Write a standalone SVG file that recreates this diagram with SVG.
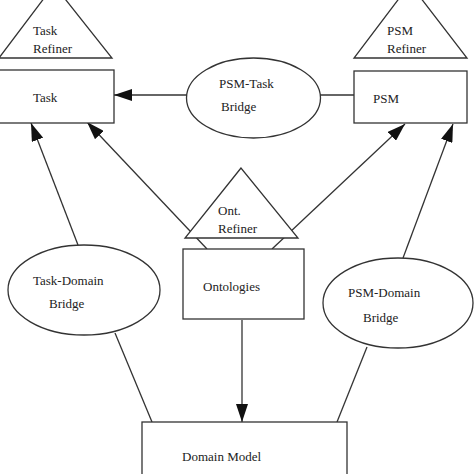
<svg xmlns="http://www.w3.org/2000/svg" width="474" height="474" viewBox="0 0 474 474">
<defs>
<marker id="ah" markerWidth="18" markerHeight="12" refX="18" refY="6" orient="auto" markerUnits="userSpaceOnUse">
<path d="M0,0 L18,6 L0,12 Z" fill="#111"/>
</marker>
<style>
.s{fill:#fff;stroke:#333;stroke-width:1.3}
.c{fill:none;stroke:#333;stroke-width:1.3}
text{font-family:"Liberation Serif","Times New Roman",serif;font-size:13px;fill:#222}
</style>
</defs>
<rect width="474" height="474" fill="#fff"/>
<g id="connectors">
<line class="c" x1="187" y1="95" x2="114" y2="95" marker-end="url(#ah)"/>
<line class="c" x1="320" y1="95" x2="354" y2="95"/>
<line class="c" x1="78" y1="245" x2="31" y2="123" marker-end="url(#ah)"/>
<line class="c" x1="207" y1="249" x2="87" y2="122" marker-end="url(#ah)"/>
<line class="c" x1="272" y1="249" x2="405" y2="124" marker-end="url(#ah)"/>
<line class="c" x1="403" y1="258" x2="453" y2="124" marker-end="url(#ah)"/>
<line class="c" x1="242" y1="320" x2="242" y2="422" marker-end="url(#ah)"/>
<line class="c" x1="115" y1="333" x2="152" y2="422"/>
<line class="c" x1="367" y1="347" x2="337" y2="422"/>
</g>
<g id="task-refiner">
<polygon class="s" points="54,-15 -1,58 112,58"/>
<text x="33" y="35">Task</text>
<text x="33" y="53">Refiner</text>
</g>
<g id="task">
<rect class="s" x="-2" y="70" width="116" height="53"/>
<text x="33" y="102">Task</text>
</g>
<g id="psm-refiner">
<polygon class="s" points="410,-16 354,58 467,58"/>
<text x="387" y="35">PSM</text>
<text x="387" y="53">Refiner</text>
</g>
<g id="psm">
<rect class="s" x="354" y="71" width="113" height="52"/>
<text x="373" y="103">PSM</text>
</g>
<g id="psm-task-bridge">
<ellipse class="s" cx="253.5" cy="98" rx="67" ry="40"/>
<text x="219" y="88">PSM-Task</text>
<text x="221" y="111">Bridge</text>
</g>
<g id="ontologies">
<rect class="s" x="183" y="249" width="121" height="70"/>
<text x="203" y="291">Ontologies</text>
</g>
<g id="ont-refiner">
<polygon class="s" points="241,168 185,238 298,238"/>
<text x="218" y="215">Ont.</text>
<text x="218" y="233">Refiner</text>
</g>
<g id="task-domain-bridge">
<ellipse class="s" cx="84" cy="290" rx="76" ry="45"/>
<text x="33" y="285">Task-Domain</text>
<text x="49" y="308">Bridge</text>
</g>
<g id="psm-domain-bridge">
<ellipse class="s" cx="398" cy="303" rx="75" ry="45"/>
<text x="348" y="297">PSM-Domain</text>
<text x="363" y="322">Bridge</text>
</g>
<g id="domain-model">
<rect class="s" x="142" y="422" width="205" height="60"/>
<text x="182" y="461">Domain Model</text>
</g>
</svg>
